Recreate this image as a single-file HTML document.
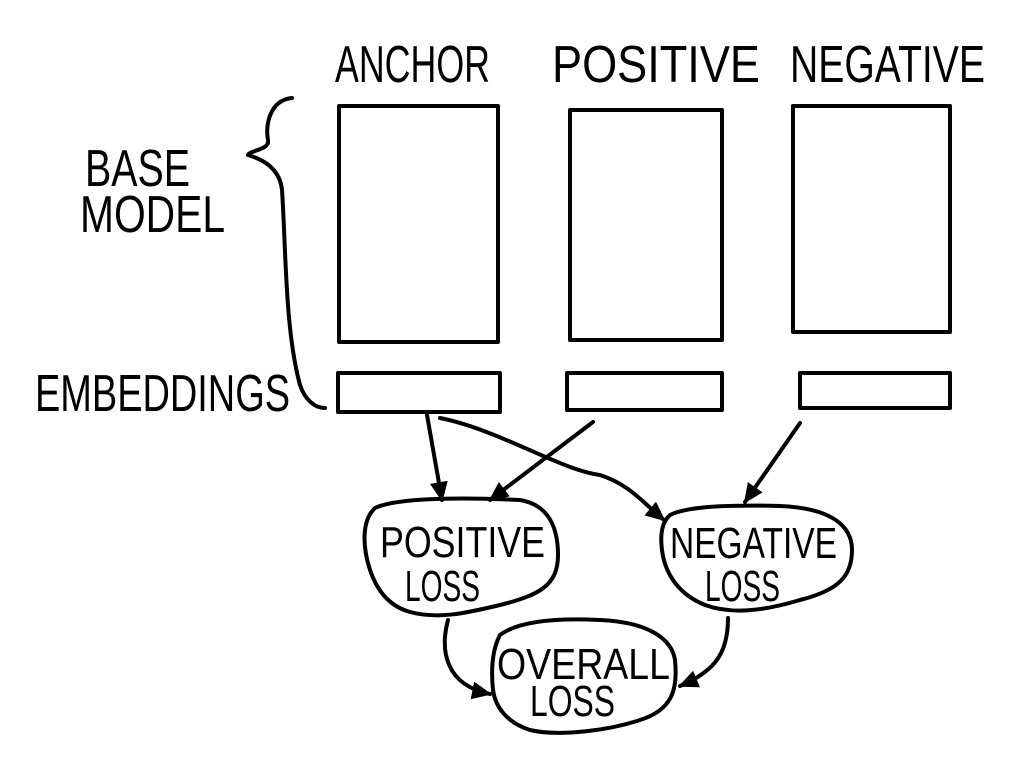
<!DOCTYPE html>
<html><head><style>
html,body{margin:0;padding:0;background:#fff;width:1024px;height:784px;overflow:hidden}
svg text{font-family:"Liberation Sans",sans-serif;fill:#000}
</style></head><body>
<svg width="1024" height="784" viewBox="0 0 1024 784" xmlns="http://www.w3.org/2000/svg">
<defs>
<marker id="b" markerWidth="22" markerHeight="22" refX="18" refY="11" orient="auto" markerUnits="userSpaceOnUse" viewBox="0 0 22 22"><path d="M0,2 L20,11 L0,20 z" fill="#000"/></marker></defs>
<g fill="none" stroke="#000" stroke-width="4" stroke-linejoin="round" stroke-linecap="round">
<rect x="339" y="106" width="159" height="236"/>
<rect x="570" y="110" width="152" height="230"/>
<rect x="793" y="106" width="157" height="226"/>
<rect x="338" y="373" width="162" height="39"/>
<rect x="567" y="373" width="155" height="37"/>
<rect x="800" y="373" width="150" height="35"/>
<path d="M292,98 C270,100 265,125 268,140 C270,150 250,150 248,155 C265,160 280,170 282,190 C286,250 285,330 300,385 C305,400 315,408 325,408"/>
<path d="M375,508 C400,496 480,498 520,500 C550,505 558,530 558,555 C558,585 540,595 500,605 C470,612 440,620 410,612 C385,605 375,585 370,570 C362,545 362,520 375,508 Z"/>
<path d="M670,515 C690,505 740,505 780,506 C830,508 852,525 852,550 C852,575 840,590 800,600 C760,612 730,614 705,605 C680,595 665,575 662,550 C660,535 662,522 670,515 Z"/>
<path d="M500,635 C520,620 560,618 600,620 C650,622 672,640 675,660 C678,690 672,710 640,720 C610,730 560,737 530,730 C505,722 495,705 493,690 C491,670 492,650 500,635 Z"/>
<path d="M427,415 L442,500" marker-end="url(#b)"/>
<path d="M593,422 L490,500" marker-end="url(#b)"/>
<path d="M440,418 C500,430 560,470 600,475 C630,485 640,500 664,520" marker-end="url(#b)"/>
<path d="M800,423 L745,502" marker-end="url(#b)"/>
<path d="M448,620 C440,650 445,685 490,694" marker-end="url(#b)"/>
<path d="M728,618 C728,650 718,670 680,686" marker-end="url(#b)"/>
</g>
<g font-size="52">
<text x="335" y="82" textLength="155" lengthAdjust="spacingAndGlyphs">ANCHOR</text>
<text x="552" y="82" textLength="208" lengthAdjust="spacingAndGlyphs">POSITIVE</text>
<text x="790" y="82" textLength="195" lengthAdjust="spacingAndGlyphs">NEGATIVE</text>
<text x="85" y="186" textLength="105" lengthAdjust="spacingAndGlyphs">BASE</text>
<text x="80" y="232" textLength="145" lengthAdjust="spacingAndGlyphs">MODEL</text>
<text x="35" y="411" textLength="255" lengthAdjust="spacingAndGlyphs">EMBEDDINGS</text>
</g>
<g font-size="44">
<text x="380" y="557" textLength="165" lengthAdjust="spacingAndGlyphs">POSITIVE</text>
<text x="405" y="601" textLength="75" lengthAdjust="spacingAndGlyphs">LOSS</text>
<text x="670" y="558" textLength="167" lengthAdjust="spacingAndGlyphs">NEGATIVE</text>
<text x="705" y="601" textLength="75" lengthAdjust="spacingAndGlyphs">LOSS</text>
<text x="497" y="679" textLength="173" lengthAdjust="spacingAndGlyphs">OVERALL</text>
<text x="530" y="716" textLength="85" lengthAdjust="spacingAndGlyphs">LOSS</text>
</g>
</svg>
</body></html>
